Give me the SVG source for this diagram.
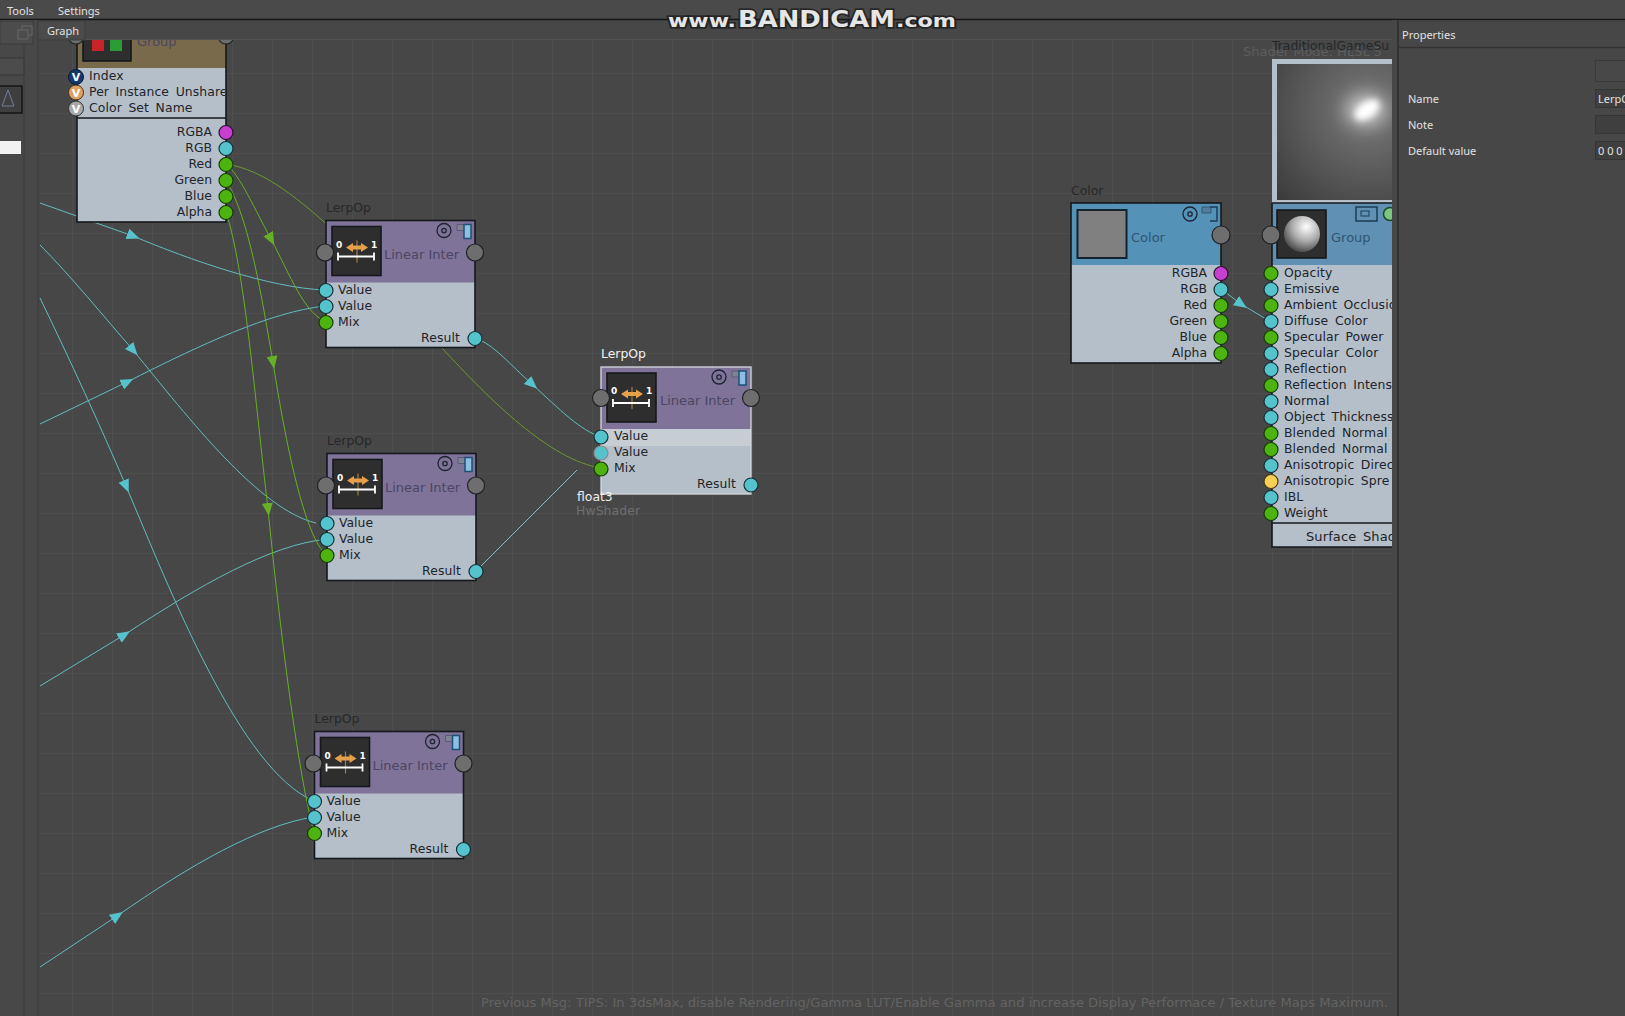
<svg xmlns="http://www.w3.org/2000/svg" width="1625" height="1016" viewBox="0 0 1625 1016">
<style>
text{font-family:"DejaVu Sans",sans-serif;font-size:12.4px;fill:#20242a}
.t{letter-spacing:.1px;word-spacing:2.500px}
.ui{font-family:"Noto Sans","Liberation Sans",sans-serif;font-size:11px;fill:#e2e2e2}
.r{text-anchor:end}
.title{font-size:13px;fill:#4b4664}
.lab{fill:#26282a}
.body{fill:#b5bfc9}
.edge{fill:none;stroke:#15181c;stroke-width:1.6}
.lerp{fill:#7f7399}
.blue{fill:#5492b8}
.box{fill:#2e2e2e;stroke:#15181c;stroke-width:1.6}
.grey{fill:#6e6e6e;stroke:#1e2226;stroke-width:1.2}
.cy{fill:#55c3cc;stroke:#143038;stroke-width:1.2}
.gr{fill:#4cb30f;stroke:#173a08;stroke-width:1.2}
.mg{fill:#c63fcf;stroke:#2a1030;stroke-width:1.2}
.ye{fill:#f7cf55;stroke:#4a3a10;stroke-width:1.2}
.c{fill:none;stroke-width:1;stroke:#63bcc0}
.g{fill:none;stroke-width:1;stroke:#66b028}
.icon{fill:none;stroke:#1b2430;stroke-width:1.3}
.fld{fill:#3f3f3f;stroke:#353535}
.wh{fill:none;stroke:#fff;stroke-width:1.800}
.wm{font-family:"DejaVu Sans",sans-serif;font-weight:700;fill:#e6e6e6;stroke:#1c1c1c;stroke-width:3.500;stroke-opacity:.75;paint-order:stroke}
</style>
<defs>
<pattern id="grid" x="32" y="33" width="40" height="40" patternUnits="userSpaceOnUse"><path d="M0.500 0V40M0 0.500H40" fill="none" stroke="#4e4e4e"/></pattern>
<marker id="ac" markerUnits="userSpaceOnUse" markerWidth="15" markerHeight="13" refX="6" refY="5.500" orient="auto"><path d="M0 0L13 5.500L0 11Z" fill="#55c3cc"/></marker>
<marker id="ag" markerUnits="userSpaceOnUse" markerWidth="15" markerHeight="13" refX="6" refY="5.500" orient="auto"><path d="M0 0L13 5.500L0 11Z" fill="#66b028"/></marker>
<radialGradient id="pv" gradientUnits="userSpaceOnUse" cx="1368" cy="110" r="150"><stop offset="0" stop-color="#7a7a7a"/><stop offset=".4" stop-color="#5c5c5c"/><stop offset="1" stop-color="#2f2f2f"/></radialGradient>
<radialGradient id="ball" cx=".62" cy=".3" r=".8"><stop offset="0" stop-color="#fff"/><stop offset=".5" stop-color="#aaa"/><stop offset="1" stop-color="#333"/></radialGradient>
<filter id="b1" x="-100%" y="-100%" width="300%" height="300%"><feGaussianBlur stdDeviation="9"/></filter>
<filter id="b2" x="-100%" y="-100%" width="300%" height="300%"><feGaussianBlur stdDeviation="3"/></filter>
<clipPath id="gc"><rect x="77" y="40" width="148" height="180"/></clipPath>
<g id="lerpIcon">
<rect class="box" x="6" y="6" width="49" height="49"/>
<path d="M31 20V42" stroke="#a87c44" stroke-width="1.200" fill="none"/>
<path d="M12 36H48M12 32V40M48 32V40" class="wh"/>
<path d="M20 27L27 22.500V25H35V22.500L42 27L35 31.500V29H27V31.500Z" fill="#e6a04a"/>
<text x="10" y="27" style="font-size:9px;font-weight:700;fill:#fff">0</text>
<text x="45" y="27" style="font-size:9px;font-weight:700;fill:#fff">1</text>
<circle class="icon" cx="118" cy="10" r="7"/><circle class="icon" cx="118" cy="10" r="2.200"/>
<path d="M131 4H139V10H131Z" fill="#7f8492" stroke="#5a5d72"/>
<rect x="138" y="4" width="7" height="14" fill="#8cbfe0" stroke="#1d4f78" stroke-width="1.500"/>
</g>
</defs>

<rect id="background" width="1625" height="1016" fill="#474747"/>
<rect x="38" y="40" width="1360" height="976" fill="url(#grid)"/>

<g id="connectors">
<path class="c" marker-mid="url(#ac)" d="M40 203L133 236C190 260 270 288 325 290"/>
<path class="c" marker-mid="url(#ac)" d="M40 245C70 275 105 318 133 350C190 420 260 510 316 523"/>
<path class="c" marker-mid="url(#ac)" d="M40 298C70 360 100 425 126 486C170 590 240 770 314 801"/>
<path class="c" marker-mid="url(#ac)" d="M40 424L127 382C200 345 270 312 325 306"/>
<path class="c" marker-mid="url(#ac)" d="M40 686L124 635C200 585 270 545 327 539"/>
<path class="c" marker-mid="url(#ac)" d="M40 967L117 916C190 865 260 825 314 817"/>
<path class="c" marker-mid="url(#ac)" d="M475 338C495 345 510 365 532 384C560 410 580 430 601 437"/>
<path class="c" style="stroke:#7fc0c4" d="M476 571L577 470"/>
<path class="c" marker-mid="url(#ac)" d="M1221 289L1241 304L1271 322"/>
<path class="g" marker-mid="url(#ag)" d="M226 164C240 175 255 210 271 239C290 275 305 315 327 322"/>
<path class="g" marker-mid="url(#ag)" d="M226 180C250 220 262 300 273 362C285 440 305 540 327 555"/>
<path class="g" marker-mid="url(#ag)" d="M226 212C245 270 255 400 268 509C277 600 295 760 314 833"/>
<path class="g" style="stroke:#6a9a30" d="M226 164C265 170 300 200 340 236C400 300 420 325 442 348C490 400 550 460 601 468"/>
</g>

<g id="node-group">
<rect class="body" x="77" y="30" width="149" height="192"/>
<rect x="77" y="30" width="149" height="38" fill="#7a6a4c"/>
<rect class="edge" x="77" y="30" width="149" height="192"/>
<path class="edge" d="M77 118H226"/>
<rect class="box" x="83" y="30" width="48" height="31"/>
<rect x="92" y="40" width="12" height="11" fill="#c8242a"/><rect x="110" y="40" width="12" height="11" fill="#2a9e34"/>
<text x="137" y="46" class="title">Group</text>
<circle class="grey" cx="76" cy="36" r="8"/><circle class="grey" cx="226" cy="36" r="8"/>
<circle cx="76" cy="77" r="7.500" fill="#123a70" stroke="#0c1a30"/><text x="76" y="81" text-anchor="middle" style="font-size:11px;font-weight:700;fill:#fff">V</text>
<circle cx="76" cy="92.500" r="7.500" fill="#e0a060" stroke="#40301c"/><text x="76" y="97" text-anchor="middle" style="font-size:11px;font-weight:700;fill:#fff">V</text>
<circle cx="76" cy="108.500" r="7.500" fill="#a8a8a8" stroke="#303030"/><text x="76" y="113" text-anchor="middle" style="font-size:11px;font-weight:700;fill:#fff">V</text>
<text x="89" y="80" class="t">Index</text>
<text x="89" y="96" class="t" clip-path="url(#gc)">Per Instance Unshare</text>
<text x="89" y="112" class="t">Color Set Name</text>
<text x="212" y="136" class="r">RGBA</text><text x="212" y="152" class="r">RGB</text><text x="212" y="168" class="r">Red</text><text x="212" y="184" class="r">Green</text><text x="212" y="200" class="r">Blue</text><text x="212" y="216" class="r">Alpha</text>
<circle class="mg" cx="226" cy="132.500" r="7"/><circle class="cy" cx="226" cy="148.500" r="7"/><circle class="gr" cx="226" cy="164.500" r="7"/><circle class="gr" cx="226" cy="180.500" r="7"/><circle class="gr" cx="226" cy="196.500" r="7"/><circle class="gr" cx="226" cy="212.500" r="7"/>
</g>

<g id="node-lerp-1" transform="translate(326 220.500)">
<rect class="body" width="149" height="127"/><rect class="lerp" width="149" height="62"/><rect class="edge" width="149" height="127"/>
<use href="#lerpIcon"/>
<text x="58" y="38" class="title">Linear Inter</text>
<text x="0" y="-9" class="lab">LerpOp</text>
<circle class="grey" cx="-1" cy="32" r="8.500"/><circle class="grey" cx="149" cy="32" r="8.500"/>
<text x="12" y="73">Value</text><text x="12" y="89">Value</text><text x="12" y="105">Mix</text><text x="134" y="121" class="r t">Result</text>
<circle class="cy" cy="70" r="7"/><circle class="cy" cy="86" r="7"/><circle class="gr" cy="102" r="7"/><circle class="cy" cx="149" cy="118" r="7"/>
</g>

<g id="node-lerp-2" transform="translate(601 367)">
<rect class="body" width="150" height="127"/><rect class="lerp" width="150" height="62"/><rect x="0" y="62" width="150" height="17" fill="#c6ced4"/>
<rect width="150" height="127" fill="none" stroke="#d5dae0" stroke-width="1.300"/>
<use href="#lerpIcon"/>
<text x="59" y="38" class="title">Linear Inter</text>
<text x="0" y="-9" style="fill:#f2f2f2">LerpOp</text>
<circle class="grey" cy="31" r="8.500"/><circle class="grey" cx="150" cy="31" r="8.500"/>
<text x="13" y="73">Value</text><text x="13" y="89">Value</text><text x="13" y="105">Mix</text><text x="135" y="121" class="r t">Result</text>
<circle class="cy" cy="70" r="7"/><circle cy="86" r="7" fill="#55c3cc" stroke="#8a8a8a" stroke-width="1.200"/><circle class="gr" cy="102" r="7"/><circle class="cy" cx="150" cy="118" r="7"/>
<text x="-24" y="134" style="fill:#f0f0f0">float3</text>
<text x="-25" y="148" style="fill:#6f6f6f" class="t">HwShader</text>
</g>

<g id="node-lerp-3" transform="translate(327 453.500)">
<rect class="body" width="149" height="127"/><rect class="lerp" width="149" height="62"/><rect class="edge" width="149" height="127"/>
<use href="#lerpIcon"/>
<text x="58" y="38" class="title">Linear Inter</text>
<text x="0" y="-9" class="lab">LerpOp</text>
<circle class="grey" cx="-1" cy="32" r="8.500"/><circle class="grey" cx="149" cy="32" r="8.500"/>
<text x="12" y="73">Value</text><text x="12" y="89">Value</text><text x="12" y="105">Mix</text><text x="134" y="121" class="r t">Result</text>
<circle class="cy" cy="70" r="7"/><circle class="cy" cy="86" r="7"/><circle class="gr" cy="102" r="7"/><circle class="cy" cx="149" cy="118" r="7"/>
</g>

<g id="node-lerp-4" transform="translate(314.500 731.500)">
<rect class="body" width="149" height="127"/><rect class="lerp" width="149" height="62"/><rect class="edge" width="149" height="127"/>
<use href="#lerpIcon"/>
<text x="58" y="38" class="title">Linear Inter</text>
<text x="0" y="-9" class="lab">LerpOp</text>
<circle class="grey" cx="-1" cy="32" r="8.500"/><circle class="grey" cx="149" cy="32" r="8.500"/>
<text x="12" y="73">Value</text><text x="12" y="89">Value</text><text x="12" y="105">Mix</text><text x="134" y="121" class="r t">Result</text>
<circle class="cy" cy="70" r="7"/><circle class="cy" cy="86" r="7"/><circle class="gr" cy="102" r="7"/><circle class="cy" cx="149" cy="118" r="7"/>
</g>

<g id="node-color">
<text x="1071" y="195" class="lab">Color</text>
<rect class="body" x="1071" y="203" width="150" height="160"/><rect class="blue" x="1071" y="203" width="150" height="62"/><rect class="edge" x="1071" y="203" width="150" height="160"/>
<rect x="1077.500" y="210" width="49" height="48" fill="#808080" stroke="#15232e" stroke-width="2"/>
<text x="1131" y="242" class="title" style="fill:#2f5570">Color</text>
<circle class="icon" cx="1190" cy="214" r="7"/><circle class="icon" cx="1190" cy="214" r="2.200"/>
<path d="M1202 207H1211V213H1202Z" fill="#4f7f9f" stroke="#30586f"/>
<path d="M1210 207H1217V221H1210" fill="none" stroke="#1b3c55" stroke-width="1.500"/>
<circle class="grey" cx="1221" cy="235" r="9"/>
<text x="1207" y="277" class="r">RGBA</text><text x="1207" y="293" class="r">RGB</text><text x="1207" y="309" class="r">Red</text><text x="1207" y="325" class="r">Green</text><text x="1207" y="341" class="r">Blue</text><text x="1207" y="357" class="r">Alpha</text>
<circle class="mg" cx="1221" cy="273.500" r="7"/><circle class="cy" cx="1221" cy="289.500" r="7"/><circle class="gr" cx="1221" cy="305.500" r="7"/><circle class="gr" cx="1221" cy="321.500" r="7"/><circle class="gr" cx="1221" cy="337.500" r="7"/><circle class="gr" cx="1221" cy="353.500" r="7"/>
</g>

<g id="node-surface">
<text x="1243" y="56" style="font-size:13px;fill:#5e5e5e">Shader Mode: HLSL 5</text>
<text x="1272" y="50" class="lab">TraditionalGameSu</text>
<rect x="1272" y="59" width="125" height="144" fill="#b5bfc9"/>
<rect x="1277" y="64" width="120" height="136" fill="url(#pv)"/>
<ellipse cx="1366" cy="110" rx="21" ry="16" fill="#ddd" opacity=".8" filter="url(#b1)"/>
<ellipse cx="1367" cy="110" rx="14" ry="8" fill="#fff" filter="url(#b2)" transform="rotate(-35 1367 110)"/>
<rect x="1272" y="203" width="125" height="344" class="body"/>
<rect x="1272" y="203" width="125" height="62" fill="#6090b4"/>
<path class="edge" d="M1272 203V547H1397M1272 523H1397M1272 203H1397"/>
<rect class="box" x="1277" y="210" width="49" height="48"/>
<circle cx="1302" cy="234" r="18" fill="url(#ball)"/>
<text x="1331" y="242" class="title" style="fill:#2f5570">Group</text>
<rect x="1356" y="207" width="21" height="14" fill="none" stroke="#1b3c55" stroke-width="1.500"/><rect x="1361" y="211" width="8" height="5" fill="none" stroke="#1b3c55"/>
<circle cx="1390" cy="214" r="6.500" fill="#7ec67e" stroke="#1e4a2a" stroke-width="1.500"/>
<circle class="grey" cx="1271" cy="235" r="9"/>
<g class="t"><text x="1284" y="277">Opacity</text><text x="1284" y="293">Emissive</text><text x="1284" y="309">Ambient Occlusio</text><text x="1284" y="325">Diffuse Color</text><text x="1284" y="341">Specular Power</text><text x="1284" y="357">Specular Color</text><text x="1284" y="373">Reflection</text><text x="1284" y="389">Reflection Intens</text><text x="1284" y="405">Normal</text><text x="1284" y="421">Object Thickness</text><text x="1284" y="437">Blended Normal</text><text x="1284" y="453">Blended Normal M</text><text x="1284" y="469">Anisotropic Direc</text><text x="1284" y="485">Anisotropic Spre</text><text x="1284" y="501">IBL</text><text x="1284" y="517">Weight</text>
<text x="1306" y="541" style="font-size:13px">Surface Shad</text></g>
<circle class="gr" cx="1271" cy="273.500" r="7"/><circle class="cy" cx="1271" cy="289.500" r="7"/><circle class="gr" cx="1271" cy="305.500" r="7"/><circle class="cy" cx="1271" cy="321.500" r="7"/><circle class="gr" cx="1271" cy="337.500" r="7"/><circle class="cy" cx="1271" cy="353.500" r="7"/><circle class="cy" cx="1271" cy="369.500" r="7"/><circle class="gr" cx="1271" cy="385.500" r="7"/><circle class="cy" cx="1271" cy="401.500" r="7"/><circle class="cy" cx="1271" cy="417.500" r="7"/><circle class="gr" cx="1271" cy="433.500" r="7"/><circle class="gr" cx="1271" cy="449.500" r="7"/><circle class="cy" cx="1271" cy="465.500" r="7"/><circle class="ye" cx="1271" cy="481.500" r="7"/><circle class="cy" cx="1271" cy="497.500" r="7"/><circle class="gr" cx="1271" cy="513.500" r="7"/>
</g>

<text id="status" x="481" y="1007" textLength="907" lengthAdjust="spacingAndGlyphs" style="font-size:13px;fill:#636363">Previous Msg: TIPS: In 3dsMax, disable Rendering/Gamma LUT/Enable Gamma and increase Display Performace / Texture Maps Maximum.</text>

<g id="chrome">
<rect x="0" y="0" width="1625" height="19" fill="#4a4a4a"/>
<rect x="0" y="19" width="1625" height="21" fill="#474747"/>
<path d="M0 19.500H1625" stroke="#15171a" stroke-width="1.500"/>
<path d="M38 39.500H1392" stroke="#525252"/>
<rect x="0" y="20" width="38" height="996" fill="#484848"/>
<rect x="0" y="21" width="33" height="23" fill="#4c4c4c" stroke="#3c3c3c"/>
<path d="M38 20V1016M24 44V1016" stroke="#3c3c3c"/>
<rect x="38" y="21" width="47" height="19" fill="#4b4b4b" stroke="#3f3f3f"/>
<path d="M18 30h10v9h-10zM22 30v-4h10v9h-4" fill="none" stroke="#5e5e5e" stroke-width="1.500"/>
<text x="7" y="15" class="ui">Tools</text><text x="58" y="15" class="ui">Settings</text><text x="47" y="35" class="ui">Graph</text>
<path d="M0 58H24V75H0" fill="#4c4c4c" stroke="#3c3c3c" stroke-width="1.500"/>
<rect x="-2" y="86" width="24" height="27" fill="#3f3f3f" stroke="#151515" stroke-width="1.500"/>
<path d="M8 90L14 106H2Z" fill="none" stroke="#6f7f9f"/>
<rect x="0" y="141" width="21" height="13" fill="#f2f2f2"/>
</g>

<g id="panel">
<rect x="1392" y="20" width="233" height="996" fill="#474747"/>
<path d="M1398 20V1016" stroke="#333" stroke-width="2"/>
<path d="M1398 47.500H1625" stroke="#333" stroke-width="1.500"/><path d="M1398 21H1625" stroke="#3c3c3c"/>
<text x="1402" y="39" class="ui">Properties</text>
<text x="1408" y="103" class="ui">Name</text><text x="1408" y="129" class="ui">Note</text><text x="1408" y="155" class="ui">Default value</text>
<rect x="1595.500" y="60.500" width="40" height="21" fill="#484848" stroke="#3a3a3a"/>
<rect class="fld" x="1595.500" y="89.500" width="40" height="18"/><rect class="fld" x="1595.500" y="115.500" width="40" height="18"/><rect class="fld" x="1595.500" y="141.500" width="40" height="18"/>
<text x="1598" y="103" class="ui">LerpC</text><text x="1598" y="155" class="ui">0 0 0</text>
</g>

<g id="watermark">
<text x="668" y="27" class="wm" textLength="68" lengthAdjust="spacingAndGlyphs" style="font-size:17px">www.</text>
<text x="738" y="27" class="wm" textLength="157" lengthAdjust="spacingAndGlyphs" style="font-size:23px">BANDICAM</text>
<text x="896" y="27" class="wm" textLength="60" lengthAdjust="spacingAndGlyphs" style="font-size:17px">.com</text>
</g>
</svg>
